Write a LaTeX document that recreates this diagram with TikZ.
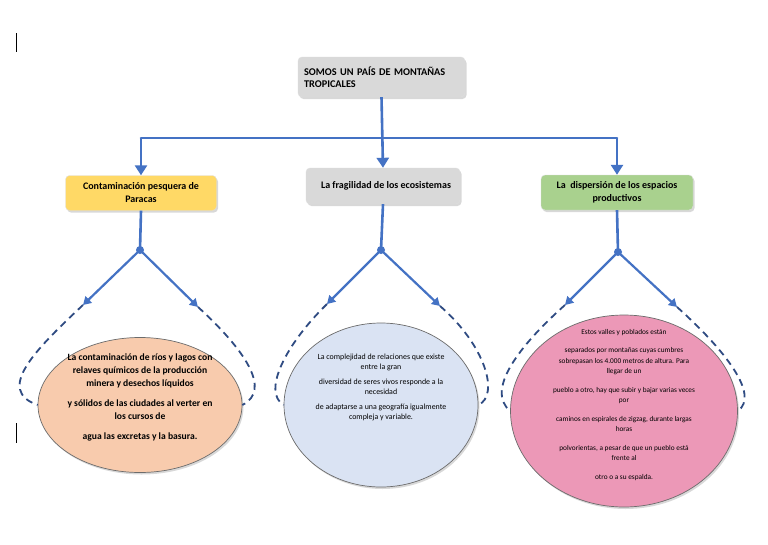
\documentclass[tikz,border=0pt]{standalone}
\usepackage{fontspec}
\setmainfont{Carlito}
\usetikzlibrary{arrows.meta,shadows,shapes.geometric}
\definecolor{azul}{HTML}{4472C4}
\definecolor{marino}{HTML}{2F4B82}
\definecolor{amarillo}{HTML}{FFD966}
\definecolor{verde}{HTML}{A9D18E}
\definecolor{gris}{HTML}{D9D9D9}
\definecolor{durazno}{HTML}{F8CBAD}
\definecolor{celeste}{HTML}{DAE3F3}
\definecolor{rosa}{HTML}{EC98B7}

\begin{document}
\begin{tikzpicture}[x=1pt, y=-1pt,
  caja/.style={rounded corners=4pt, draw=gray!25, line width=0.4pt, minimum height=35pt, inner sep=3pt, align=center,
    font=\fontsize{10}{13}\selectfont\bfseries, drop shadow={shadow xshift=1.5pt, shadow yshift=-2pt, opacity=0.3}},
  elipse/.style={ellipse, draw=gray!85!black, line width=0.7pt, inner sep=0pt, drop shadow={shadow xshift=1.5pt, shadow yshift=-2pt, opacity=0.3}},
  texto/.style={align=center, inner sep=0pt},
  punto/.style={circle, fill=azul, minimum size=8pt, inner sep=0pt},
  enlace/.style={draw=azul, line width=2.6pt},
  flecha/.style={enlace, -{Triangle[length=10pt,width=12pt]}},
  rama/.style={draw=azul, line width=2.2pt, -{Triangle[length=8pt,width=9pt]}},
  guion/.style={draw=marino, line width=1.8pt, dash pattern=on 7pt off 5pt},
  cursor/.style={draw=black, line width=1pt},
]
\useasboundingbox[fill=white] (0,0) rectangle (768,544);
\draw[cursor] (16,33) -- (16,52);
\draw[cursor] (16,423) -- (16,443);

% Titulo
\node[caja, fill=gris, minimum width=167pt, minimum height=40pt, text width=155pt, align=left,
  font=\fontsize{10.3}{12}\selectfont\bfseries] (titulo) at (381.5,77) {SOMOS UN PAÍS DE MONTAÑAS\\TROPICALES};

% Causas
\node[caja, fill=amarillo, minimum width=151pt] (causa1) at (141,193) {Contaminación pesquera de\\Paracas};
\node[caja, fill=gris, minimum width=154pt, minimum height=36pt] (causa2) at (383,186) {\hspace*{6pt}La fragilidad de los ecosistemas};
\node[caja, fill=verde, minimum width=152pt] (causa3) at (617,192.5) {La\ \ dispersión de los espacios\\productivos};

% Conectores superiores
\coordinate (bus) at (383,138);
\draw[enlace, line cap=round] (causa1.north |- bus) -- (causa3.north |- bus);
\draw[flecha] (titulo.south) -- (causa2.north);
\draw[flecha] (causa1.north |- bus) -- (causa1.north);
\draw[flecha] (causa3.north |- bus) -- (causa3.north);

% Puntos de ramificacion
\node[punto] (p1) at (140,250) {};
\node[punto] (p2) at (381,250) {};
\node[punto] (p3) at (618,252) {};
\draw[enlace] (causa1.south) -- (p1.center);
\draw[enlace] (causa2.south) -- (p2.center);
\draw[enlace] (causa3.south) -- (p3.center);

\coordinate (t11) at (83,305);
\coordinate (t12) at (198,307);
\coordinate (t21) at (327,304);
\coordinate (t22) at (440,306);
\coordinate (t31) at (565,305);
\coordinate (t32) at (677,307);

% Elipses
\node[elipse, fill=durazno, minimum width=204pt, minimum height=135pt] (desc1) at (140,405) {};
\node[elipse, fill=celeste, minimum width=194pt, minimum height=164pt] (desc2) at (381,405) {};
\node[elipse, fill=rosa, minimum width=227pt, minimum height=192pt] (desc3) at (624,411) {};

% Ramas
\draw[rama] (p1.center) -- (t11);
\draw[rama] (p1.center) -- (t12);
\draw[rama] (p2.center) -- (t21);
\draw[rama] (p2.center) -- (t22);
\draw[rama] (p3.center) -- (t31);
\draw[rama] (p3.center) -- (t32);
\draw[guion] (t11) .. controls (35,350) and (-5,390) .. (desc1.west);
\draw[guion] (t12) .. controls (245,350) and (272,390) .. (desc1.east);
\draw[guion] (t21) .. controls (285,345) and (262,392) .. (desc2.west);
\draw[guion] (t22) .. controls (485,345) and (500,395) .. (desc2.east);
\draw[guion] (t31) .. controls (520,345) and (485,390) .. (desc3.west);
\draw[guion] (t32) .. controls (725,350) and (760,395) .. (desc3.east);

% Textos
\node[texto, font=\fontsize{9.6}{13}\selectfont\bfseries] (texto1) at (140,397) {%
  La contaminación de ríos y lagos con\\relaves químicos de la producción\\minera y desechos líquidos\\[7pt]
  y sólidos de las ciudades al verter en\\los cursos de\\[7pt]
  agua las excretas y la basura.};
\node[texto, font=\fontsize{7.9}{10}\selectfont] (texto2) at (381,387) {%
  La complejidad de relaciones que existe\\entre la gran\\[5pt]
  diversidad de seres vivos responde a la\\necesidad\\[5pt]
  de adaptarse a una geografía igualmente\\compleja y variable.};
\node[texto, font=\fontsize{7.3}{10.5}\selectfont] (texto3) at (624,405) {%
  Estos valles y poblados están\\[8pt]
  separados por montañas cuyas cumbres\\sobrepasan los 4.000 metros de altura. Para\\llegar de un\\[8pt]
  pueblo a otro, hay que subir y bajar varias veces\\por\\[8pt]
  caminos en espirales de zigzag, durante largas\\horas\\[8pt]
  polvorientas, a pesar de que un pueblo está\\frente al\\[8pt]
  otro o a su espalda.};
\end{tikzpicture}
\end{document}
